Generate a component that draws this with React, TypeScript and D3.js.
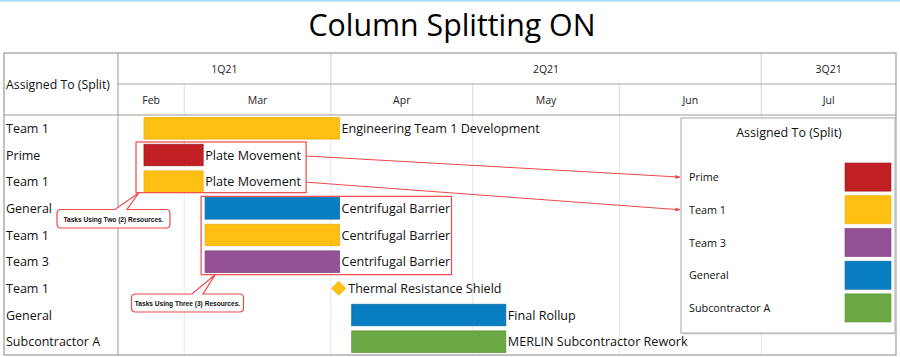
import React from "react";
import * as d3 from "d3";

const W = 900;
const H = 357;
const FONT = "'Open Sans', sans-serif";

const rowLabels = ["Team 1", "Prime", "Team 1", "General", "Team 1", "Team 3", "Team 1", "General", "Subcontractor A"];
const taskNames = [
  "Engineering Team 1 Development",
  "Plate Movement",
  "Plate Movement",
  "Centrifugal Barrier",
  "Centrifugal Barrier",
  "Centrifugal Barrier",
  "Thermal Resistance Shield",
  "Final Rollup",
  "MERLIN Subcontractor Rework",
];
const taskStarts = [
  "2021-02-20T12:00", "2021-02-20T12:00", "2021-02-20T12:00",
  "2021-03-05T10:00", "2021-03-05T10:00", "2021-03-05T10:00",
  "2021-04-02T16:00", "2021-04-05T10:00", "2021-04-05T10:00",
];
const taskEnds = [
  "2021-04-02T20:00", "2021-03-05T00:00", "2021-03-05T00:00",
  "2021-04-02T20:00", "2021-04-02T20:00", "2021-04-02T20:00",
  "2021-04-02T16:00", "2021-05-08T00:00", "2021-05-08T00:00",
];
const taskIsMilestone = [false, false, false, false, false, false, true, false, false];

const resourceNames = ["Prime", "Team 1", "Team 3", "General", "Subcontractor A"];
const resourceColors = ["#C21F25", "#FCBF12", "#955196", "#0A7EC2", "#6BA843"];
const resourceStrokes = ["#A01A1F", "#EDB010", "#80427F", "#086CA8", "#5E9639"];

const quarterLabels = ["1Q21", "2Q21", "3Q21"];
const quarterStarts = ["2021-02-15T00:00", "2021-04-01T00:00", "2021-07-01T00:00"];
const monthLabels = ["Feb", "Mar", "Apr", "May", "Jun", "Jul"];
const monthStarts = ["2021-02-15T00:00", "2021-03-01T00:00", "2021-04-01T00:00", "2021-05-01T00:00", "2021-06-01T00:00", "2021-07-01T00:00"];
const domainEnd = "2021-07-29T12:00";

const calloutTexts = ["Tasks Using Two (2) Resources.", "Tasks Using Three (3) Resources."];

function calloutPath(x0: number, y0: number, x1: number, y1: number, r: number, b0: number, b1: number, tx: number, ty: number) {
  return `M${x0 + r},${y0} L${b0},${y0} L${tx},${ty} L${b1},${y0} L${x1 - r},${y0} Q${x1},${y0} ${x1},${y0 + r} L${x1},${y1 - r} Q${x1},${y1} ${x1 - r},${y1} L${x0 + r},${y1} Q${x0},${y1} ${x0},${y1 - r} L${x0},${y0 + r} Q${x0},${y0} ${x0 + r},${y0} Z`;
}

export default function App() {
  const left = 4, right = 896, top = 53, mid = 84, hdr = 115, bottom = 355, split = 118;
  const parse = (s: string) => new Date(s);
  const x = d3.scaleTime().domain([parse(monthStarts[0]), parse(domainEnd)]).range([split, right]);
  const rowH = (bottom - hdr) / rowLabels.length;
  const rowC = (i: number) => hdr + rowH * (i + 0.5);
  const colorOf = (name: string) => resourceColors[resourceNames.indexOf(name)];
  const strokeOf = (name: string) => resourceStrokes[resourceNames.indexOf(name)];
  const barH = 21.5;
  const red = "#F0474B";

  const qEdges = quarterStarts.map((d) => x(parse(d)));
  const mEdges = monthStarts.map((d) => x(parse(d)));
  const qRight = (i: number) => (i + 1 < qEdges.length ? qEdges[i + 1] : right);
  const mRight = (i: number) => (i + 1 < mEdges.length ? mEdges[i + 1] : right);

  // legend
  const lg = { x0: 681, y0: 118, x1: 895, y1: 333 };
  const legendY = d3.scaleBand<number>().domain(d3.range(resourceNames.length)).range([163, 322]).paddingInner(0.14);

  // callout boxes
  const b1x0 = x(parse(taskStarts[1])) - 8;
  const b1x1 = x(parse(taskEnds[1])) + 103;
  const b1y0 = rowC(1) - 13, b1y1 = rowC(2) + 11;
  const b2x0 = x(parse(taskStarts[3])) - 4;
  const b2x1 = x(parse(taskEnds[3])) + 112;
  const b2y0 = rowC(3) - 12, b2y1 = rowC(5) + 13;

  return (
    <svg width={W} height={H} style={{ position: "absolute", left: 0, top: 0, background: "#fff" }} fontFamily={FONT}>
      <defs>
        <marker id="arr" viewBox="0 0 6 6" refX="5.5" refY="3" markerWidth="5" markerHeight="5" orient="auto">
          <path d="M0,0.5 L6,3 L0,5.5 Z" fill={red} />
        </marker>
      </defs>
      <rect x={0} y={0} width={W} height={H} fill="#fff" />
      <line x1={0} x2={W} y1={0.75} y2={0.75} stroke="#9FD6F2" strokeWidth={1.5} />
      <text x={452} y={36} textAnchor="middle" fontSize={30.3} fill="#000" fontFamily="'Open Sans', sans-serif">Column Splitting ON</text>

      {/* body grid */}
      {mEdges.slice(1).map((m, i) => (
        <line key={"bg" + i} x1={m} x2={m} y1={hdr} y2={bottom} stroke="#E6E6E6" strokeWidth={1} />
      ))}

      {/* header lines */}
      {qEdges.slice(1).map((q, i) => (
        <line key={"qg" + i} x1={q} x2={q} y1={top} y2={mid} stroke="#D0D0D0" />
      ))}
      {mEdges.slice(1).map((m, i) => (
        <line key={"mg" + i} x1={m} x2={m} y1={mid} y2={hdr} stroke="#D8D8D8" />
      ))}
      <line x1={split} x2={right} y1={mid} y2={mid} stroke="#A8A8A8" />
      <line x1={left} x2={right} y1={hdr} y2={hdr} stroke="#999" strokeWidth={1.2} />
      <line x1={split} x2={split} y1={top} y2={bottom} stroke="#999" />
      <rect x={left} y={top} width={right - left} height={bottom - top} fill="none" stroke="#999" strokeWidth={1.2} />

      {quarterLabels.map((q, i) => (
        <text key={q} x={(qEdges[i] + qRight(i)) / 2} y={(top + mid) / 2 + 4} textAnchor="middle" fontSize={10.5} fill="#222">{q}</text>
      ))}
      {monthLabels.map((m, i) => (
        <text key={m} x={(mEdges[i] + mRight(i)) / 2} y={(mid + hdr) / 2 + 4} textAnchor="middle" fontSize={10.5} fill="#222">{m}</text>
      ))}
      <text x={6} y={mid + 4.5} fontSize={12.3} fill="#111">Assigned To (Split)</text>

      {/* row labels */}
      {rowLabels.map((r, i) => (
        <text key={"rl" + i} x={6} y={rowC(i) + 4.5} fontSize={12.5} fill="#111">{r}</text>
      ))}

      {/* bars */}
      {taskNames.map((t, i) => {
        const xs = x(parse(taskStarts[i]));
        const xe = x(parse(taskEnds[i]));
        const cy = rowC(i);
        if (taskIsMilestone[i]) {
          const s = 7;
          return (
            <g key={"t" + i}>
              <path d={`M${xe},${cy - s} L${xe + s},${cy} L${xe},${cy + s} L${xe - s},${cy} Z`} fill={colorOf(rowLabels[i])} stroke={strokeOf(rowLabels[i])} strokeWidth={0.8} />
              <text x={xe + 9.5} y={cy + 4.5} fontSize={12.6} fill="#111">{t}</text>
            </g>
          );
        }
        return (
          <g key={"t" + i}>
            <rect x={xs} y={cy - barH / 2} width={xe - xs} height={barH} fill={colorOf(rowLabels[i])} stroke={strokeOf(rowLabels[i])} strokeWidth={0.8} />
            <text x={xe + 2} y={cy + 4.5} fontSize={12.6} fill="#111">{t}</text>
          </g>
        );
      })}

      {/* callout boxes */}
      <rect x={b1x0} y={b1y0} width={b1x1 - b1x0} height={b1y1 - b1y0} fill="none" stroke={red} strokeWidth={1.2} />
      <rect x={b2x0} y={b2y0} width={b2x1 - b2x0} height={b2y1 - b2y0} fill="none" stroke={red} strokeWidth={1.2} />

      {/* arrows */}
      <line x1={b1x1} y1={rowC(1) + 1} x2={lg.x0 - 1} y2={legendY(0)! + legendY.bandwidth() / 2} stroke={red} strokeWidth={1} markerEnd="url(#arr)" />
      <line x1={b1x1} y1={rowC(2) + 0.5} x2={lg.x0 - 1} y2={legendY(1)! + legendY.bandwidth() / 2} stroke={red} strokeWidth={1} markerEnd="url(#arr)" />

      {/* callout labels */}
      <path d={calloutPath(57, 209.5, 170, 228, 4, 115, 127, b1x0 + 3, b1y1)} fill="#fff" stroke={red} strokeWidth={1.2} />
      <text x={113.5} y={221.5} textAnchor="middle" fontSize={6.6} fontWeight="bold" fontFamily="'Liberation Sans', Arial, sans-serif" fill="#111">{calloutTexts[0]}</text>
      <path d={calloutPath(131.5, 294, 243.5, 312, 4, 192, 203, b2x0 + 14, b2y1)} fill="#fff" stroke={red} strokeWidth={1.2} />
      <text x={187.5} y={305.5} textAnchor="middle" fontSize={6.6} fontWeight="bold" fontFamily="'Liberation Sans', Arial, sans-serif" fill="#111">{calloutTexts[1]}</text>

      {/* legend */}
      <rect x={lg.x0 + 1.5} y={lg.y0 + 1.5} width={lg.x1 - lg.x0} height={lg.y1 - lg.y0} fill="#D8D8D8" />
      <rect x={lg.x0} y={lg.y0} width={lg.x1 - lg.x0} height={lg.y1 - lg.y0} fill="#fff" stroke="#A8A8A8" strokeWidth={1} />
      <text x={(lg.x0 + lg.x1) / 2 + 1} y={137} textAnchor="middle" fontSize={12.5} fill="#111">Assigned To (Split)</text>
      {resourceNames.map((r, i) => {
        const yy = legendY(i)!;
        return (
          <g key={"lg" + r}>
            <rect x={845} y={yy} width={46} height={legendY.bandwidth()} fill={resourceColors[i]} stroke={resourceStrokes[i]} strokeWidth={0.6} />
            <text x={689} y={yy + legendY.bandwidth() / 2 + 4} fontSize={10.8} fill="#111">{r}</text>
          </g>
        );
      })}
    </svg>
  );
}
